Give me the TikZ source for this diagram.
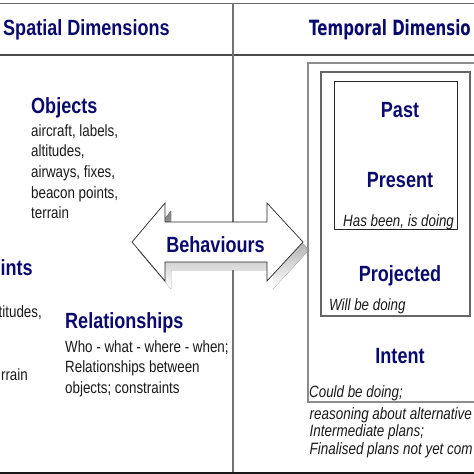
\documentclass[tikz,border=0pt]{standalone}
\usepackage{fontspec}
\setmainfont{Liberation Sans}[FakeStretch=0.82]
\newfontfamily\tfont{DejaVu Sans}[FakeStretch=0.715]
\definecolor{navy}{RGB}{10,10,110}
\definecolor{ink}{RGB}{25,25,25}
\definecolor{shade}{RGB}{120,120,120}
\tikzset{
  head/.style={inner sep=0, text=navy, font=\fontsize{22}{26}\selectfont\bfseries},
  thead/.style={inner sep=0, text=navy, font=\tfont\fontsize{21}{26}\selectfont\bfseries},
  body/.style={inner sep=0, text=ink, font=\fontsize{16.3}{20.7}\selectfont},
  ibody/.style={inner sep=0, text=ink, font=\fontsize{16.3}{20.7}\selectfont\itshape},
  ibodytight/.style={inner sep=0, text=ink, font=\fontsize{16.4}{17.5}\selectfont\itshape},
  rule/.style={draw=black!70, line width=1.2pt},
  divider/.style={draw=black!55, line width=1.2pt},
  outerbox/.style={draw=black!45, line width=1.6pt},
  midbox/.style={draw=black!60, line width=1.4pt},
  innerbox/.style={draw=black!85, line width=1pt},
  arrowshape/.style={insert path={(132,242) -- (165,203) -- (165,222) -- (267,222) -- (267,203)
     -- (303,242) -- (267,281) -- (267,262) -- (165,262) -- (165,281) -- cycle}},
}
\begin{document}
\begin{tikzpicture}[x=1pt,y=-1pt]
\useasboundingbox (0,0) rectangle (474,474);
\clip (0,0) rectangle (474,474);
% frame lines
\coordinate (tl) at (0,3);
\coordinate (tr) at (474,3);
\coordinate (hl) at (0,55);
\coordinate (hr) at (474,55);
\coordinate (vt) at (233,3);
\coordinate (vb) at (233,472);
\coordinate (bl) at (0,473);
\coordinate (br) at (474,473);
\draw[draw=black!60, line width=1pt] (tl) -- (tr);
\draw[rule] (hl) -- (hr);
\draw[divider] (vt) -- (vb);
\draw[draw=black!90, line width=3pt] (bl) -- (br);

% headers
\node[head, anchor=base west] (spatial) at (3,35) {Spatial Dimensions};
\node[thead, anchor=base west] (temporal) at (309,35) {Temporal Dimensio};

% Objects
\node[head, anchor=base west] (objects) at (31,113) {Objects};
\node[body, anchor=base west] (objtext) at (31,136)
  {\begin{tabular}[t]{@{}l@{}}aircraft, labels,\\ altitudes,\\ airways, fixes,\\ beacon points,\\ terrain\end{tabular}};

% Constraints (shown cut off at the left edge)
\node[head, anchor=base west] (constraints) at (0.5,275) {ints};
\node[body, anchor=base east] (contextA) at (42,317) {titudes,};
\node[body, anchor=base east] (contextB) at (28,380) {rrain};

% Relationships
\node[head, anchor=base west] (relations) at (65,328) {Relationships};
\node[body, anchor=base west] (reltext) at (65,352)
  {\begin{tabular}[t]{@{}l@{}}Who - what - where - when;\\ Relationships between\\ objects; constraints\end{tabular}};

% Behaviours double arrow
\begin{scope}[shift={(6,8)}]
  \fill[shade, arrowshape];
\end{scope}
\filldraw[fill=white, draw=black!85, line width=0.7pt, arrowshape];
\node[head, anchor=base] (behaviours) at (215.5,252) {Behaviours};

% Temporal boxes
\coordinate (ob1) at (307.7,63);
\coordinate (ob2) at (480,402);
\coordinate (mb1) at (321,72);
\coordinate (mb2) at (470,316);
\coordinate (ib1) at (334.5,81);
\coordinate (ib2) at (457,229);
\draw[outerbox] (ob1) rectangle (ob2);
\draw[midbox] (mb1) rectangle (mb2);
\draw[innerbox] (ib1) rectangle (ib2);

\node[head, anchor=base] (past) at (400,117) {Past};
\node[head, anchor=base] (present) at (400,187) {Present};
\node[ibody, anchor=base west] (hasbeen) at (343,226) {Has been, is doing};
\node[head, anchor=base] (projected) at (400,281) {Projected};
\node[ibody, anchor=base west] (willbe) at (329,310) {Will be doing};
\node[head, anchor=base] (intent) at (400,363) {Intent};
\node[ibody, anchor=base west] (could) at (309,397) {Could be doing;};
\node[ibodytight, anchor=base west] (reasoning) at (309.5,419)
  {\begin{tabular}[t]{@{}l@{}}reasoning about alternative\\ Intermediate plans;\\ Finalised plans not yet com\end{tabular}};
\end{tikzpicture}
\end{document}
